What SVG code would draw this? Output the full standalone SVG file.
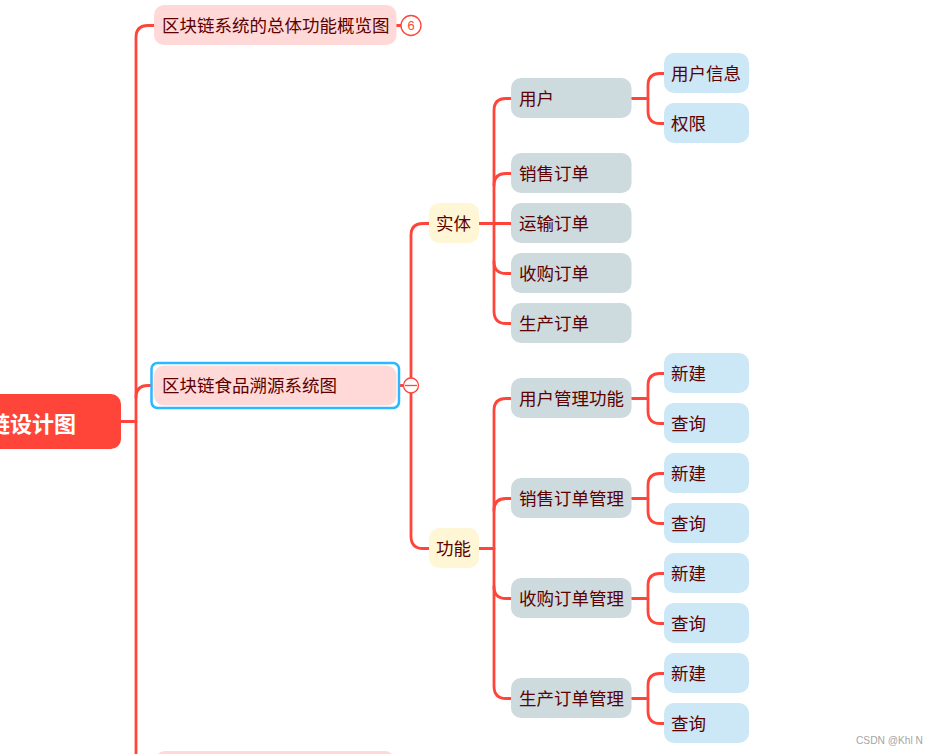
<svg xmlns="http://www.w3.org/2000/svg" width="937" height="754" viewBox="0 0 937 754">
<style>
text{font-family:"Noto Sans CJK SC","Microsoft YaHei","Liberation Sans",sans-serif;font-size:17.5px;fill:#5c0000;dominant-baseline:central;transform:translateY(-1.5px)}
.c{fill:none;stroke:#ff453a;stroke-width:2.8;stroke-linecap:round}
.p{fill:#ffd9d8}.y{fill:#fff6d6}.g{fill:#cddade}.b{fill:#cce7f6}
.w{font-family:"Liberation Sans",sans-serif;font-size:10.2px;fill:#a6a6a6;transform:none}
</style>
<rect width="937" height="754" fill="#fff"/>
<g id="connectors">
<path class="c" d="M155 25.500H148Q136 25.500 136 37.500V754"/>
<path class="c" d="M121 421.500H136"/>
<path class="c" d="M155 385.500H148Q136 385.500 136 397.500"/>
<path class="c" d="M396 385.500H411"/>
<path class="c" d="M396 25.500H411"/>
<path class="c" d="M429 223.500H423Q411 223.500 411 235.500V536Q411 548.500 423 548.500H429"/>
<path class="c" d="M479 223.500H511"/>
<path class="c" d="M511 98.500H506Q494 98.500 494 110.500V311Q494 323.500 506 323.500H511"/>
<path class="c" d="M511 173.500H506Q494 173.500 494 185.500"/>
<path class="c" d="M511 273.500H506Q494 273.500 494 261.500"/>
<path class="c" d="M479 548.500H494"/>
<path class="c" d="M511 398.500H506Q494 398.500 494 410.500V686Q494 698.500 506 698.500H511"/>
<path class="c" d="M511 498.500H506Q494 498.500 494 510.500"/>
<path class="c" d="M511 598.500H506Q494 598.500 494 586.500"/>
<path class="c" d="M632 98.500H648M664 73.500H660Q648 73.500 648 85.500V111Q648 123.500 660 123.500H664"/>
<path class="c" d="M632 398.500H648M664 373.500H660Q648 373.500 648 385.500V411Q648 423.500 660 423.500H664"/>
<path class="c" d="M632 498.500H648M664 473.500H660Q648 473.500 648 485.500V511Q648 523.500 660 523.500H664"/>
<path class="c" d="M632 598.500H648M664 573.500H660Q648 573.500 648 585.500V611Q648 623.500 660 623.500H664"/>
<path class="c" d="M632 698.500H648M664 673.500H660Q648 673.500 648 685.500V711Q648 723.500 660 723.500H664"/>
</g>
<g id="root"><rect x="-30" y="394" width="151" height="55" rx="10" fill="#ff453a"/><text x="76" y="423" text-anchor="end" style="font-size:22px;font-weight:700;fill:#fff">链设计图</text></g>
<g id="n1"><rect class="p" x="154" y="5" width="242.500" height="40" rx="10"/><text x="162" y="25.500">区块链系统的总体功能概览图</text></g>
<g id="n1-count"><circle cx="411" cy="25.500" r="10" fill="#fff" stroke="#ff453a" stroke-width="1.300"/><text x="411" y="26.500" text-anchor="middle" style="font-family:'Liberation Sans',sans-serif;font-size:13px;fill:#ff453a">6</text></g>
<g id="n2"><rect x="151.500" y="363" width="247.500" height="45" rx="6" fill="#fff" stroke="#2db7ff" stroke-width="2.500"/><rect class="p" x="154" y="365.500" width="242.500" height="40" rx="10"/><text x="162" y="385.500">区块链食品溯源系统图</text></g>
<g id="n2-toggle"><circle cx="411" cy="385.500" r="7.500" fill="#fff" stroke="#ff453a" stroke-width="1.300"/><path d="M405 385.500H417" stroke="#ff453a" stroke-width="1.300"/></g>
<g id="n3"><rect class="y" x="429" y="203" width="50" height="40" rx="10"/><text x="436" y="223.500">实体</text></g>
<g id="n4"><rect class="y" x="429" y="528" width="50" height="40" rx="10"/><text x="436" y="548.500">功能</text></g>
<g id="n5"><rect class="g" x="511" y="78" width="120.500" height="40" rx="10"/><text x="519" y="98.500">用户</text></g>
<g id="n6"><rect class="g" x="511" y="153" width="120.500" height="40" rx="10"/><text x="519" y="173.500">销售订单</text></g>
<g id="n7"><rect class="g" x="511" y="203" width="120.500" height="40" rx="10"/><text x="519" y="223.500">运输订单</text></g>
<g id="n8"><rect class="g" x="511" y="253" width="120.500" height="40" rx="10"/><text x="519" y="273.500">收购订单</text></g>
<g id="n9"><rect class="g" x="511" y="303" width="120.500" height="40" rx="10"/><text x="519" y="323.500">生产订单</text></g>
<g id="n10"><rect class="g" x="511" y="378" width="120.500" height="40" rx="10"/><text x="519" y="398.500">用户管理功能</text></g>
<g id="n11"><rect class="g" x="511" y="478" width="120.500" height="40" rx="10"/><text x="519" y="498.500">销售订单管理</text></g>
<g id="n12"><rect class="g" x="511" y="578" width="120.500" height="40" rx="10"/><text x="519" y="598.500">收购订单管理</text></g>
<g id="n13"><rect class="g" x="511" y="678" width="120.500" height="40" rx="10"/><text x="519" y="698.500">生产订单管理</text></g>
<g id="n14"><rect class="b" x="664" y="53" width="85" height="40" rx="10"/><text x="671" y="73.500">用户信息</text></g>
<g id="n15"><rect class="b" x="664" y="103" width="85" height="40" rx="10"/><text x="671" y="123.500">权限</text></g>
<g id="n16"><rect class="b" x="664" y="353" width="85" height="40" rx="10"/><text x="671" y="373.500">新建</text></g>
<g id="n17"><rect class="b" x="664" y="403" width="85" height="40" rx="10"/><text x="671" y="423.500">查询</text></g>
<g id="n18"><rect class="b" x="664" y="453" width="85" height="40" rx="10"/><text x="671" y="473.500">新建</text></g>
<g id="n19"><rect class="b" x="664" y="503" width="85" height="40" rx="10"/><text x="671" y="523.500">查询</text></g>
<g id="n20"><rect class="b" x="664" y="553" width="85" height="40" rx="10"/><text x="671" y="573.500">新建</text></g>
<g id="n21"><rect class="b" x="664" y="603" width="85" height="40" rx="10"/><text x="671" y="623.500">查询</text></g>
<g id="n22"><rect class="b" x="664" y="653" width="85" height="40" rx="10"/><text x="671" y="673.500">新建</text></g>
<g id="n23"><rect class="b" x="664" y="703" width="85" height="40" rx="10"/><text x="671" y="723.500">查询</text></g>
<g id="n24"><rect class="p" x="155" y="751" width="240" height="40" rx="10"/></g>
<text class="w" x="856" y="740">CSDN @Khl N</text>
</svg>
